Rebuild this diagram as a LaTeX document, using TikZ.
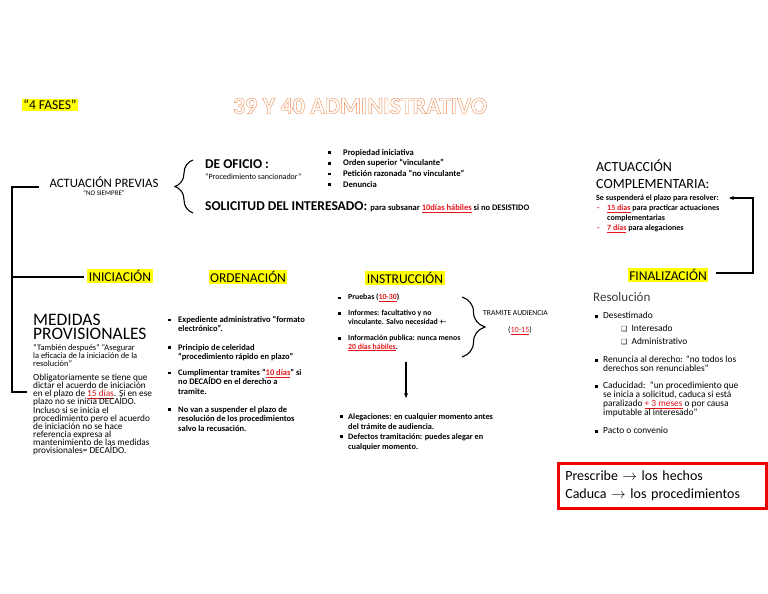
\documentclass[tikz,border=0pt]{standalone}
\usepackage{fontspec}
\setmainfont{Carlito}
\newfontfamily\dejavu{DejaVu Sans}
\usetikzlibrary{arrows.meta,decorations.pathreplacing}
\definecolor{hly}{HTML}{FFFF00}
\definecolor{rred}{HTML}{E3151B}
\definecolor{ttlc}{HTML}{EE8A4E}
\definecolor{boxred}{HTML}{F20000}
\definecolor{dgray}{HTML}{3A3A3A}
\newcommand\rd[1]{\raisebox{0pt}[\height][0pt]{\color{rred}\underline{#1}}}
\newcommand\bul[1]{\makebox[#1][l]{\rule[0.12em]{0.32em}{0.32em}}}
\newcommand\sqbox{{\dejavu\fontsize{7}{7}\selectfont ❑}}
\newcommand\outl[1]{\special{pdf:literal direct 1 Tr 0.4 w}#1\special{pdf:literal direct 0 Tr}}
\newcommand\fsz[2]{\fontsize{#1}{#2}\selectfont\lineskiplimit=-20pt\relax}
\begin{document}
\begin{tikzpicture}[x=1pt,y=-1pt,
  txt/.style={inner sep=0pt,anchor=north west,align=left},
  lft/.style={inner sep=0pt,anchor=west},
  phase/.style={fill=hly,inner xsep=1.5pt,inner ysep=1.5pt,font=\fsz{13.5}{15}},
  bar/.style={line width=1.8pt,black},
  brc/.style={decorate,line width=1.1pt},
]
\useasboundingbox (0,0) rectangle (768,594);

% header
\node[fill=hly,inner xsep=1pt,inner ysep=1.5pt,font=\fsz{13.5}{15}] (fases) at (50,105) {“4 FASES”};
\node[inner sep=0pt,font=\bfseries\fsz{24}{26},text=ttlc] (title) at (360,106) {\outl{39 Y 40 ADMINISTRATIVO}};

% actuacion previas
\node[inner sep=0pt,font=\fsz{12.8}{14}] (prev) at (104,182) {ACTUACIÓN PREVIAS};
\node[inner sep=0pt,font=\fsz{7}{8}] (nosi) at (104,193) {“NO SIEMPRE”};
\coordinate (b1) at (193,213);
\coordinate (b2) at (193,160);
\draw[brc,decoration={brace,amplitude=18pt,aspect=0.5}] (b1) -- (b2);

\node[lft,font=\bfseries\fsz{13.5}{15}] (ofi) at (205,164) {DE OFICIO :};
\node[lft,font=\fsz{8}{9}] (proc) at (205,177) {“Procedimiento sancionador”};
\node[txt,font=\bfseries\fsz{8.6}{10.6}] (ofil) at (328,149) {\bul{15pt}Propiedad iniciativa\\\bul{15pt}Orden superior “vinculante”\\\bul{15pt}Petición razonada “no vinculante”\\\bul{15pt}Denuncia};
\node[lft,font=\bfseries\fsz{13.5}{15}] (sol) at (205,207) {SOLICITUD DEL INTERESADO: {\fsz{8.5}{9}para subsanar \rd{10días hábiles} si no DESISTIDO}};

% actuaccion complementaria
\node[txt,font=\fsz{14}{16.5}] (comp) at (596,160) {ACTUACCIÓN\\COMPLEMENTARIA:};
\node[lft,font=\bfseries\fsz{8}{9}] (sus) at (596,198) {Se suspenderá el plazo para resolver:};
\node[txt,font=\bfseries\fsz{8}{10}] (susl) at (597,205) {\makebox[10pt][l]{\color{rred}-}\rd{15 días} para practicar actuaciones\\\hspace*{10pt}complementarias\\\makebox[10pt][l]{\color{rred}-}\rd{7 días} para alegaciones};

% phases
\node[phase] (ini) at (120,276) {INICIACIÓN};
\node[phase] (ord) at (248,277) {ORDENACIÓN};
\node[phase] (ins) at (405,278) {INSTRUCCIÓN};
\node[phase] (fin) at (668,275) {FINALIZACIÓN};

% left bracket
\coordinate (lt) at (12,187);
\coordinate (ltr) at (39,187);
\coordinate (lm) at (12,277);
\coordinate (lb) at (12,392);
\coordinate (lbr) at (27,392);
\draw[bar] (ltr) -- (lt) -- (lb) -- (lbr);
\draw[bar] (lm) -- ([xshift=-3pt]ini.west |- lm);

% finalizacion arrow
\coordinate (fc) at (753,273);
\draw[line width=1.2pt,-{Stealth[length=5pt,width=4pt]}] ([xshift=8pt]fin.east |- fc) -- (fc) |- ([xshift=10pt]sus.east);

% iniciacion
\node[txt,font=\fsz{17.5}{13.5}] (med) at (33,314) {MEDIDAS\\PROVISIONALES};
\node[txt,font=\fsz{8.4}{8}] (tamb) at (33,344.5) {“También después” “Asegurar\\la eficacia de la iniciación de la\\resolución”};
\node[txt,font=\fsz{9.3}{8.1}] (oblig) at (33,374) {Obligatoriamente se tiene que\\dictar el acuerdo de iniciación\\en el plazo de \rd{15 días}. Si en ese\\plazo no se inicia DECAÍDO.\\Incluso si se inicia el\\procedimiento pero el acuerdo\\de iniciación no se hace\\referencia expresa al\\mantenimiento de las medidas\\provisionales= DECAÍDO.};

% ordenacion
\node[txt,font=\bfseries\fsz{8.5}{9.3}] (o1) at (168,316) {\bul{10pt}Expediente administrativo “formato\\\hspace*{10pt}electrónico”.};
\node[txt,font=\bfseries\fsz{8.5}{9.3}] (o2) at (168,344) {\bul{10pt}Principio de celeridad\\\hspace*{10pt}“procedimiento rápido en plazo”};
\node[txt,font=\bfseries\fsz{8.5}{9.5}] (o3) at (168,369) {\bul{10pt}Cumplimentar tramites “\rd{10 días}” si\\\hspace*{10pt}no DECAÍDO en el derecho a\\\hspace*{10pt}tramite.};
\node[txt,font=\bfseries\fsz{8.5}{9.5}] (o4) at (168,406) {\bul{10pt}No van a suspender el plazo de\\\hspace*{10pt}resolución de los procedimientos\\\hspace*{10pt}salvo la recusación.};

% instruccion
\node[txt,font=\bfseries\fsz{7.8}{8.5}] (i1) at (338,294) {\bul{10pt}Pruebas (\rd{10-30})};
\node[txt,font=\bfseries\fsz{7.8}{8.5}] (i2) at (338,310) {\bul{10pt}Informes: facultativo y no\\\hspace*{10pt}vinculante. Salvo necesidad +-};
\node[txt,font=\bfseries\fsz{7.8}{8.5}] (i3) at (338,335) {\bul{10pt}Información publica: nunca menos\\\hspace*{10pt}\rd{20 días hábiles}.};
\coordinate (r1) at (462,297);
\coordinate (r2) at (462,357);
\draw[brc,decoration={brace,amplitude=23pt,aspect=0.5}] (r1) -- (r2);
\node[lft,font=\fsz{7.6}{9}] (tra) at (483,313) {TRAMITE AUDIENCIA};
\node[inner sep=0pt,font=\fsz{8}{9}] (tra2) at (520,330) {(\rd{10-15})};
\coordinate (d1) at (406,362);
\coordinate (d2) at (406,398);
\draw[line width=1.3pt,-{Stealth[length=5pt,width=4pt]}] (d1) -- (d2);
\node[txt,font=\bfseries\fsz{8.3}{10}] (a1) at (340,413) {\bul{8pt}Alegaciones: en cualquier momento antes\\\hspace*{8pt}del trámite de audiencia.\\\bul{8pt}Defectos tramitación: puedes alegar en\\\hspace*{8pt}cualquier momento.};

% finalizacion
\node[lft,font=\fsz{13}{15},text=dgray] (res) at (593,297) {Resolución};
\node[txt,font=\fsz{9.4}{9}] (f1) at (595,312) {\bul{8pt}Desestimado};
\node[txt,font=\fsz{9.4}{13}] (f2) at (621,325) {\sqbox\hspace{2pt} Interesado\\\sqbox\hspace{2pt} Administrativo};
\node[txt,font=\fsz{9.4}{9}] (f3) at (595,356) {\bul{8pt}Renuncia al derecho: “no todos los\\\hspace*{8pt}derechos son renunciables”};
\node[txt,font=\fsz{9.4}{8.7}] (f4) at (595,382) {\bul{8pt}Caducidad:\ \ “un procedimiento que\\\hspace*{8pt}se inicia a solicitud, caduca si está\\\hspace*{8pt}paralizado \rd{+ 3 meses} o por causa\\\hspace*{8pt}imputable al interesado”};
\node[txt,font=\fsz{9.4}{9}] (f5) at (595,427) {\bul{8pt}Pacto o convenio};

% red box
\node[draw=boxred,line width=2.6pt,anchor=north west,minimum width=208pt,minimum height=45pt,text width=194pt,align=left,inner xsep=7pt,inner ysep=3pt,font=\fsz{14}{18}] (box) at (557,462) {Prescribe $\rightarrow$ los hechos\\Caduca $\rightarrow$ los procedimientos};
\end{tikzpicture}
\end{document}
